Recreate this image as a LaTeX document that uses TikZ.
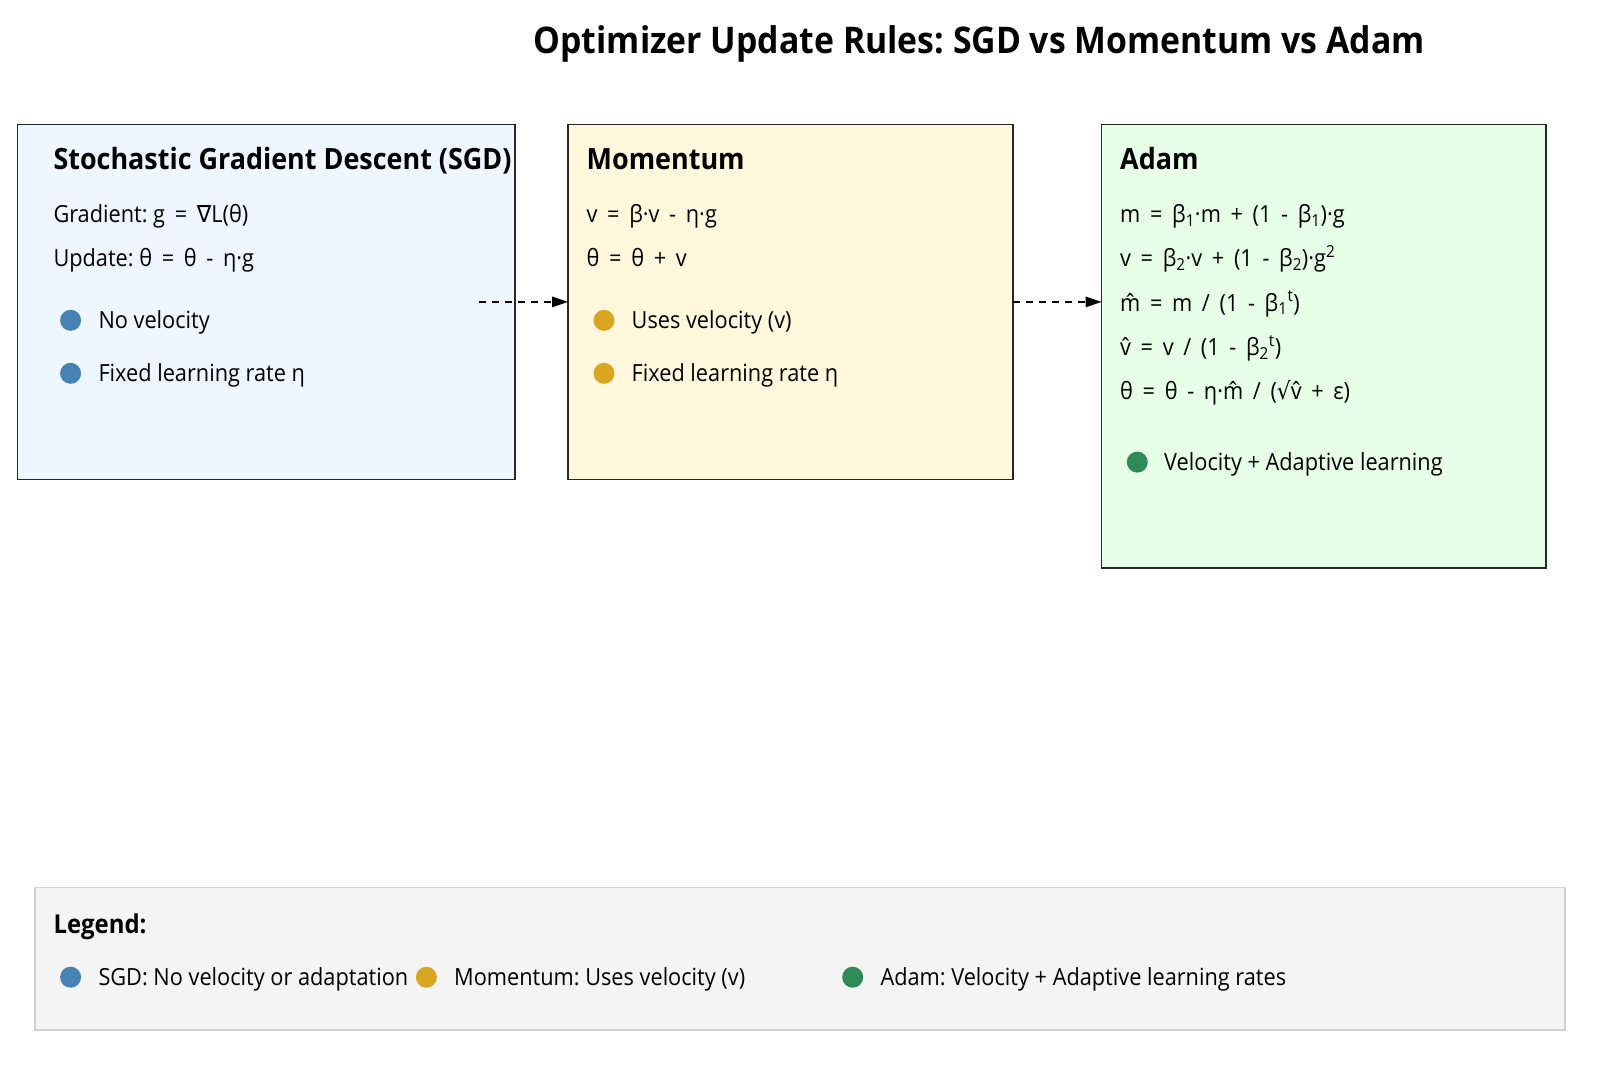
\documentclass[tikz,border=0pt]{standalone}
\usepackage{fontspec}
\setmainfont[FakeStretch=0.92]{Open Sans}
\newfontfamily\symf[FakeStretch=0.92]{DejaVu Sans}
\usetikzlibrary{arrows.meta}
\definecolor{sgdfill}{HTML}{EEF6FF}
\definecolor{momfill}{HTML}{FFF8DC}
\definecolor{adamfill}{HTML}{E6FFE6}
\definecolor{legfill}{HTML}{F4F4F4}
\definecolor{legdraw}{HTML}{D0D0D0}
\definecolor{cblue}{HTML}{4682B4}
\definecolor{cgold}{HTML}{DAA520}
\definecolor{cgreen}{HTML}{2E8B57}
\frenchspacing
\newlength\calw
\newlength\wsp
\newcommand\calib[4]{\settowidth\calw{#2\fontsize{10pt}{12pt}\selectfont #4}\xdef#1{\the\dimexpr 10pt*#3/\calw\relax}}
\newcommand\hatl[1]{\ooalign{#1\cr\hidewidth ˆ\hidewidth\cr}}
\newcommand\widesp{\setlength\wsp{\fontdimen2\font}\addtolength\wsp{4pt}\spaceskip=\wsp\relax}
\newcommand\nsp{\hskip\fontdimen2\font\relax}
\AtBeginDocument{%
  \calib\bodysz{}{13533184}{Fixed learning rate η}%
  \calib\headsz{\bfseries}{30015488}{Stochastic Gradient Descent (SGD)}%
  \calib\titlesz{\bfseries}{58392576}{Optimizer Update Rules: SGD vs Momentum vs Adam}%
  \calib\legsz{\bfseries}{6094848}{Legend:}}
\tikzset{
  panel/.style={draw=black!85, line width=1.6pt, inner sep=0pt, outer sep=0pt, anchor=north west},
  body/.style={anchor=base west, inner sep=0pt, font=\fontsize{\bodysz}{\bodysz}\selectfont},
  formula/.style={body, execute at begin node={\widesp}},
  head/.style={anchor=base west, inner sep=0pt, font=\bfseries\fontsize{\headsz}{\headsz}\selectfont},
  titlef/.style={anchor=base west, inner sep=0pt, font=\bfseries\fontsize{\titlesz}{\titlesz}\selectfont},
  legh/.style={anchor=base west, inner sep=0pt, font=\bfseries\fontsize{\legsz}{\legsz}\selectfont},
  dot/.style={circle, inner sep=0pt, minimum size=21pt, draw=none},
  flow/.style={dashed, dash pattern=on 7pt off 6pt, line width=1.5pt, -{Triangle[length=16pt,width=10.5pt]}}
}
\begin{document}
\begin{tikzpicture}[x=1pt,y=-1pt]
\useasboundingbox (0,0) rectangle (1600,1066);
\fill[white] (0,0) rectangle (1600,1066);
% title
\node[titlef] (title) at (533.5,53) {Optimizer Update Rules: SGD vs Momentum vs Adam};
% panels
\node[panel, fill=sgdfill, minimum width=497.7pt, minimum height=355pt] (sgd) at (17.3,124.4) {};
\node[panel, fill=momfill, minimum width=445pt, minimum height=355pt] (mom) at (568,124.4) {};
\node[panel, fill=adamfill, minimum width=444.5pt, minimum height=443.6pt] (adam) at (1101.6,124.4) {};
% SGD
\node[head] (sgdh) at (53.3,169.3) {Stochastic Gradient Descent (SGD)};
\node[formula] (sgd1) at (53.3,222.6) {Gradient:\nsp g = {\symf ∇}L(θ)};
\node[formula] (sgd2) at (53.3,266.8) {Update:\nsp θ = θ - η·g};
\node[dot, fill=cblue] (sgdd1) at (70.6,320.3) {};
\node[body] (sgdt1) at (98.3,328.2) {No velocity};
\node[dot, fill=cblue] (sgdd2) at (70.6,373.3) {};
\node[body] (sgdt2) at (98.3,381.4) {Fixed learning rate η};
% Momentum
\node[head] (momh) at (586.5,169.3) {Momentum};
\node[formula] (mom1) at (586.5,222.6) {v = β·v - η·g};
\node[formula] (mom2) at (586.5,266.8) {θ = θ + v};
\node[dot, fill=cgold] (momd1) at (604,320.3) {};
\node[body] (momt1) at (631.5,328.2) {Uses velocity (v)};
\node[dot, fill=cgold] (momd2) at (604,373.3) {};
\node[body] (momt2) at (631.5,381.4) {Fixed learning rate η};
% Adam
\node[head] (adamh) at (1120,169.3) {Adam};
\node[formula] (adam1) at (1120,222.6) {m = β\textsubscript{1}·m + (1 - β\textsubscript{1})·g};
\node[formula] (adam2) at (1120,266.8) {v = β\textsubscript{2}·v + (1 - β\textsubscript{2})·g\textsuperscript{2}};
\node[formula] (adam3) at (1120,311.0) {\hatl{m} = m / (1 - β\textsubscript{1}\textsuperscript{t})};
\node[formula] (adam4) at (1120,355.3) {\hatl{v} = v / (1 - β\textsubscript{2}\textsuperscript{t})};
\node[formula] (adam5) at (1120,399.6) {θ = θ - η·\hatl{m} / ({\symf √}\hatl{v} + ε)};
\node[dot, fill=cgreen] (adamd1) at (1137.3,462.1) {};
\node[body] (adamt1) at (1164,470.2) {Velocity + Adaptive learning};
% connectors
\draw[flow] ([xshift=-36pt]sgd.east) -- (mom.west);
\draw[flow] (mom.east) -- (mom.east -| adam.west);
% legend
\node[panel, draw=legdraw, line width=1.6pt, fill=legfill, minimum width=1530pt, minimum height=142.8pt] (leg) at (34.7,887.4) {};
\node[legh] (legt) at (53.3,933) {Legend:};
\node[dot, fill=cblue] (legd1) at (70.6,977.2) {};
\node[body] (legt1) at (98.3,985.3) {SGD: No velocity or adaptation};
\node[dot, fill=cgold] (legd2) at (426.4,977.2) {};
\node[body] (legt2) at (454,985.3) {Momentum: Uses velocity (v)};
\node[dot, fill=cgreen] (legd3) at (852.7,977.2) {};
\node[body] (legt3) at (880.3,985.3) {Adam: Velocity + Adaptive learning rates};
\end{tikzpicture}
\end{document}
